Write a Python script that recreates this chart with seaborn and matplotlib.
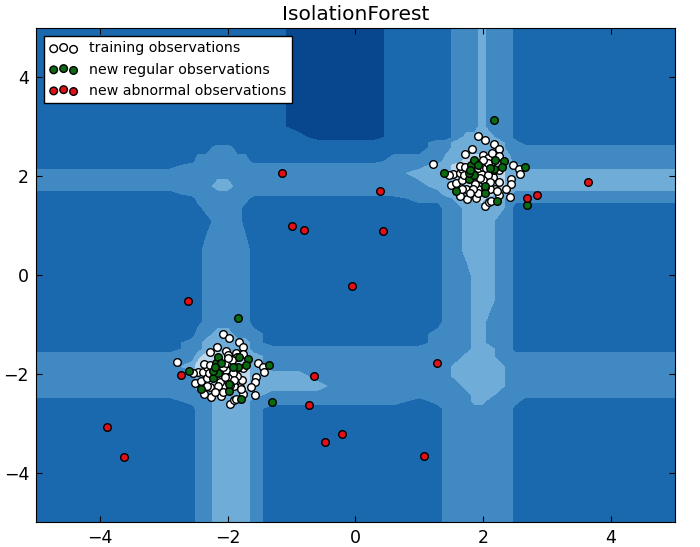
import numpy as np
import matplotlib
matplotlib.use('Agg')
import matplotlib.pyplot as plt
import seaborn as sns

# anomaly score bands, one digit per grid node (0 = darkest)
x_nodes = [-5, -2.9, -2.55, -2.47, -2.33, -2.15, -2.0, -1.85, -1.72, -1.6, -1.3, -0.9, -0.6, -0.3, 0.3,
           0.6, 1.0, 1.3, 1.42, 1.6, 1.75, 1.87, 1.97, 2.1, 2.25, 2.4, 2.5, 2.65, 3.0, 5]
y_nodes = [5, 3.0, 2.78, 2.68, 2.58, 2.3, 2.22, 2.06, 1.8, 1.64, 1.56, 1.36, 1.1, 0.5, 0,
           -0.5, -0.95, -1.2, -1.38, -1.5, -1.65, -1.85, -2.05, -2.25, -2.42, -2.55, -2.7, -2.9, -3.5, -5]
score_rows = [
    "111111111110000111122232221111",
    "111111111110000111122232221111",
    "111111111111000111123333221111",
    "111111111111111112233333322111",
    "111112211111111112233333322222",
    "111222222111111222334444432222",
    "112222222222222223344444433222",
    "222222222222222233344444433333",
    "222223322222222223334444433333",
    "112222222222222222333444332222",
    "111222222111111122233443322222",
    "111122221111111111223333321111",
    "111112221111111111223333221111",
    "111122222111111111223333221111",
    "111122222111111111222333221111",
    "111122222111111111222333221111",
    "111122222111111111222332221111",
    "111223322211111112222332221111",
    "112233333211111112222332221111",
    "112233333222222222222333221111",
    "222344444322222222223333222222",
    "223444444322222222233333322222",
    "222344444333222222233333322222",
    "222334444333322222223333322222",
    "222233333322222222222333222222",
    "112223333222222212222332222111",
    "111223333211111111222222221111",
    "111223333211111111222222221111",
    "111223333211111111222222221111",
    "111223333211111111222222221111",
]

train_x = [1.21, 1.92, 2.02, 2.17, 2.25, 1.83, 1.72, 2.00, 2.08, 2.13, 2.25, 2.47, 2.56, 2.57, 2.44, 2.44,
           2.36, 2.42, 2.25, 2.19, 1.92, 1.73, 1.74, 1.63, 1.49, 1.58, 1.53, 1.46, 1.63, 1.67, 1.63, 1.89,
           2.03, 2.09, 2.12, 2.24, 2.15, 2.03, 1.97, 1.92, 2.00, 2.05, 2.16, 2.08, 2.00, 1.87, 1.82, 1.66,
           1.92, 2.11, 2.21, 1.95, 2.08, 2.00, 1.70, 1.71, 2.24, 2.11, 2.03, 1.84, 1.79, 1.67,
           -2.79, -2.08, -1.98, -1.82, -1.76, -2.17, -2.28, -2.02, -1.99, -1.87, -1.76, -1.85, -1.53, -1.44,
           -1.43, -1.56, -1.57, -1.64, -1.58, -1.76, -1.81, -2.08, -2.28, -2.26, -2.37, -2.51, -2.42, -2.47,
           -2.54, -2.39, -2.33, -2.37, -2.11, -1.97, -1.90, -1.87, -1.77, -1.85, -1.96, -2.02, -2.07, -2.02,
           -1.94, -1.85, -1.91, -1.99, -2.12, -2.33, -2.07, -1.90, -1.79, -2.05, -1.94, -2.00, -2.29, -2.28,
           -1.76, -1.90, -1.96, -2.15, -2.20, -2.32]
train_y = [2.24, 2.81, 2.73, 2.66, 2.56, 2.56, 2.45, 2.43, 2.37, 2.46, 2.40, 2.22, 2.14, 2.04, 1.94, 1.84,
           1.74, 1.57, 1.62, 1.74, 1.75, 1.74, 1.54, 1.60, 1.82, 1.87, 2.04, 2.02, 2.06, 2.15, 2.21, 1.55,
           1.40, 1.47, 1.50, 1.89, 1.98, 2.02, 2.06, 2.16, 2.19, 2.16, 2.13, 2.02, 1.92, 1.85, 2.02, 1.92,
           1.65, 1.75, 1.70, 1.96, 2.26, 2.33, 2.02, 2.19, 2.13, 1.89, 1.79, 1.75, 1.65, 1.75,
           -1.77, -1.20, -1.28, -1.35, -1.45, -1.45, -1.55, -1.53, -1.61, -1.57, -1.60, -1.65, -1.79, -1.87,
           -1.96, -2.07, -2.16, -2.27, -2.43, -2.40, -2.27, -2.25, -2.26, -2.47, -2.41, -2.19, -2.14, -1.96,
           -1.99, -1.96, -1.87, -1.80, -2.45, -2.62, -2.54, -2.51, -2.13, -2.04, -1.99, -1.92, -1.86, -1.79,
           -1.82, -1.88, -1.99, -2.09, -2.16, -2.09, -2.36, -2.25, -2.31, -2.06, -1.72, -1.69, -1.99, -1.82,
           -1.88, -2.13, -2.23, -2.25, -2.36, -2.25]

regular_x = [2.16, 1.39, 2.65, 2.69, 2.21, 1.58, 2.02, 2.02, 1.78, 1.86, 1.78, 1.81, 1.86, 1.91, 2.18, 2.32,
             2.29, 2.16, 2.10, 1.79,
             -1.84, -2.61, -1.35, -1.30, -1.79, -2.42, -1.98, -1.98, -2.23, -2.15, -2.23, -2.19, -2.15, -2.10,
             -1.82, -1.68, -1.71, -1.84, -1.91, -2.20]
regular_y = [3.14, 2.06, 2.18, 1.42, 1.50, 1.71, 1.65, 1.80, 1.94, 2.02, 2.06, 2.23, 2.33, 2.22, 2.33, 2.31,
             2.18, 2.14, 2.17, 2.13,
             -0.87, -1.95, -1.82, -2.58, -2.50, -2.31, -2.35, -2.21, -2.08, -1.99, -1.95, -1.78, -1.67, -1.79,
             -1.67, -1.70, -1.83, -1.87, -1.86, -1.86]

abnormal_x = [-1.15, 0.38, -0.99, -0.81, 0.43, -2.62, -0.05, 1.27, -2.73, -0.65, -0.73, -0.48, -0.21, 1.07,
              -3.89, -3.62, 2.69, 2.84, 3.64]
abnormal_y = [2.06, 1.70, 0.99, 0.91, 0.89, -0.53, -0.22, -1.78, -2.02, -2.04, -2.63, -3.38, -3.22, -3.66,
              -3.08, -3.68, 1.56, 1.61, 1.88]

ticks = [-4, -2, 0, 2, 4]
band_colors = ['#08478d', '#1a68ae', '#4089c3', '#6fadd8', '#b9d6ea']

Z = np.array([[int(c) for c in row] for row in score_rows])

fig = plt.figure(figsize=(7, 5.47), dpi=100)
ax = fig.add_axes([36 / 700, 1 - 522 / 547, 639 / 700, 494 / 547])

ax.contourf(x_nodes, y_nodes, Z, levels=[-0.5, 0.5, 1.5, 2.5, 3.5, 4.5], colors=band_colors)

sns.scatterplot(x=train_x, y=train_y, color='white', edgecolor='k', linewidth=1, s=30,
                label='training observations', ax=ax, zorder=3)
sns.scatterplot(x=regular_x, y=regular_y, color='#0b6b12', edgecolor='k', linewidth=1, s=30,
                label='new regular observations', ax=ax, zorder=4)
sns.scatterplot(x=abnormal_x, y=abnormal_y, color='#e3101a', edgecolor='k', linewidth=1, s=30,
                label='new abnormal observations', ax=ax, zorder=5)

ax.set_xlim(-5, 5)
ax.set_ylim(-5, 5)
ax.set_xticks(ticks)
ax.set_yticks(ticks)
ax.tick_params(direction='in', top=True, right=True, length=4, labelsize=12.5, pad=5)
ax.set_title('IsolationForest', fontsize=14.5, pad=6)

leg = ax.legend(loc='upper left', scatterpoints=3, scatteryoffsets=[0.375, 0.5, 0.3125], fontsize=10.2,
                fancybox=False, framealpha=1, edgecolor='k', borderaxespad=0.55)
leg.set_zorder(10)

plt.savefig('out.png', dpi=100)
